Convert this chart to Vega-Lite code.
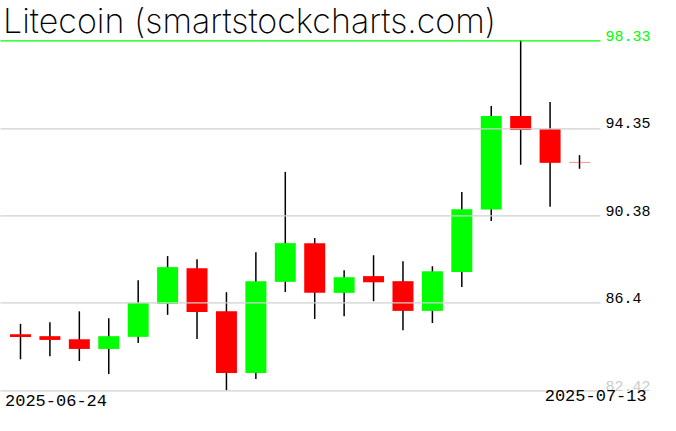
{
  "$schema": "https://vega.github.io/schema/vega-lite/v6.json",
  "autosize": "none",
  "width": 600,
  "height": 350,
  "padding": {"top": 40.3, "left": 0, "right": 76, "bottom": 40.7},
  "background": "white",
  "config": {"view": {"stroke": null}},
  "title": {
    "text": "Litecoin (smartstockcharts.com)",
    "anchor": "start",
    "frame": "group",
    "font": "Inter",
    "fontSize": 34,
    "fontWeight": 200,
    "color": "black",
    "baseline": "alphabetic",
    "offset": -38.5,
    "dx": 3
  },
  "data": {
    "values": [
      {"date": "2025-06-24", "open": 84.97, "high": 85.44, "low": 83.83, "close": 84.84},
      {"date": "2025-06-25", "open": 84.88, "high": 85.51, "low": 83.97, "close": 84.71},
      {"date": "2025-06-26", "open": 84.74, "high": 86.01, "low": 83.75, "close": 84.30},
      {"date": "2025-06-27", "open": 84.30, "high": 85.70, "low": 83.16, "close": 84.88},
      {"date": "2025-06-28", "open": 84.85, "high": 87.42, "low": 84.57, "close": 86.38},
      {"date": "2025-06-29", "open": 86.35, "high": 88.52, "low": 85.85, "close": 88.02},
      {"date": "2025-06-30", "open": 87.97, "high": 88.38, "low": 84.75, "close": 85.98},
      {"date": "2025-07-01", "open": 86.01, "high": 86.88, "low": 82.42, "close": 83.21},
      {"date": "2025-07-02", "open": 83.21, "high": 88.70, "low": 82.93, "close": 87.38},
      {"date": "2025-07-03", "open": 87.35, "high": 92.35, "low": 86.89, "close": 89.11},
      {"date": "2025-07-04", "open": 89.11, "high": 89.34, "low": 85.66, "close": 86.85},
      {"date": "2025-07-05", "open": 86.85, "high": 87.88, "low": 85.79, "close": 87.56},
      {"date": "2025-07-06", "open": 87.61, "high": 88.56, "low": 86.47, "close": 87.33},
      {"date": "2025-07-07", "open": 87.38, "high": 88.29, "low": 85.15, "close": 86.03},
      {"date": "2025-07-08", "open": 86.03, "high": 88.06, "low": 85.48, "close": 87.83},
      {"date": "2025-07-09", "open": 87.80, "high": 91.43, "low": 87.12, "close": 90.65},
      {"date": "2025-07-10", "open": 90.64, "high": 95.34, "low": 90.12, "close": 94.89},
      {"date": "2025-07-11", "open": 94.89, "high": 98.33, "low": 92.67, "close": 94.25},
      {"date": "2025-07-12", "open": 94.29, "high": 95.52, "low": 90.76, "close": 92.76},
      {"date": "2025-07-13", "open": 92.80, "high": 93.11, "low": 92.49, "close": 92.78}
    ]
  },
  "encoding": {
    "x": {
      "field": "date",
      "type": "ordinal",
      "scale": {"type": "band", "paddingInner": 0.287, "paddingOuter": 0.34},
      "axis": {
        "title": null,
        "orient": "bottom",
        "values": ["2025-06-24", "2025-07-13"],
        "domain": false,
        "ticks": false,
        "grid": false,
        "labelAngle": 0,
        "labelFont": "Liberation Mono",
        "labelFontSize": 17,
        "labelColor": "black",
        "labelBaseline": "alphabetic",
        "labelOverlap": false,
        "labelBound": false,
        "labelFlush": false,
        "labelAlign": {"condition": {"test": "datum.value == '2025-06-24'", "value": "left"}, "value": "right"},
        "labelOffset": {"condition": {"test": "datum.value == '2025-06-24'", "value": -15.5}, "value": 67.2},
        "labelPadding": {"condition": {"test": "datum.value == '2025-06-24'", "value": 15.5}, "value": 10.5},
        "zindex": 2
      }
    },
    "y": {
      "type": "quantitative",
      "scale": {"domain": [82.42, 98.33], "nice": false, "zero": false},
      "axis": {
        "title": null,
        "orient": "right",
        "values": [82.42, 86.4, 90.38, 94.35, 98.33],
        "labelExpr": "'' + datum.value",
        "domain": false,
        "ticks": false,
        "grid": true,
        "gridColor": {"condition": {"test": "datum.value > 98", "value": "#00ff00"}, "value": "#d0d0d0"},
        "gridWidth": 1.2,
        "labelFont": "Liberation Mono",
        "labelFontSize": 15,
        "labelBaseline": "alphabetic",
        "labelPadding": 5,
        "labelOverlap": false,
        "labelFlush": false,
        "labelBound": false,
        "labelColor": {"condition": [{"test": "datum.value > 98", "value": "#00ff00"}, {"test": "datum.value < 83", "value": "#cccccc"}], "value": "#000000"},
        "zindex": 1
      }
    }
  },
  "layer": [
    {
      "mark": {"type": "rule", "color": "black", "strokeWidth": 1.5},
      "encoding": {
        "y": {"field": "low", "type": "quantitative"},
        "y2": {"field": "high"}
      }
    },
    {
      "mark": {"type": "bar", "minBandSize": 1.2},
      "encoding": {
        "y": {"field": "open", "type": "quantitative"},
        "y2": {"field": "close"},
        "color": {
          "condition": {"test": "datum.close >= datum.open", "value": "#00ff00"},
          "value": "#ff0000"
        }
      }
    }
  ]
}
